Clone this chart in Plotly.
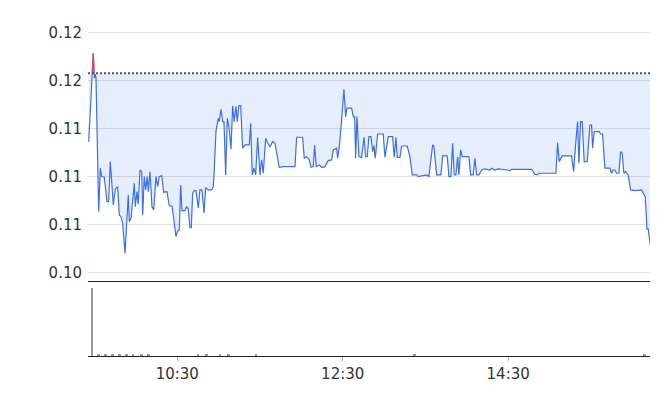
import datetime as dt
import plotly.graph_objects as go

BASE = dt.datetime(2024, 1, 2, 9, 30)

# ---- data (minutes after 09:30, price) ----
price_minutes = [
    -4.24, -1.85, -0.91, -0.18, 0.54, 1.05, 3.01, 4.17, 5.18, 7.07,
    9.03, 10.26, 11.42, 13.6, 15.05, 16.79, 17.95, 19.18, 20.41, 22.08,
    24.47, 25.2, 26.43, 28.82, 29.55, 30.78, 31.72, 32.96, 34.19, 34.91,
    36.07, 37.09, 38.25, 38.97, 40.21, 41.66, 42.89, 44.56, 45.79, 46.95,
    48.69, 50.14, 52.53, 54.2, 56.16, 57.39, 59.06, 60.29, 61.45, 62.47,
    63.41, 65.59, 66.82, 67.98, 69.21, 70.15, 71.17, 72.33, 73.56, 75.23,
    76.46, 77.91, 79.36, 80.6, 82.48, 84.95, 86.1, 86.61, 88.06, 89.73,
    90.46, 91.69, 92.92, 93.87, 95.1, 96.26, 97.49, 98.94, 100.17, 101.33,
    102.57, 103.51, 104.74, 105.97, 107.42, 109.09, 112.21, 113.22, 114.38, 115.62,
    116.85, 118.3, 119.24, 119.97, 121.2, 122.36, 124.1, 125.55, 127.22, 129.18,
    130.85, 132.8, 133.96, 136.43, 145.35, 146.58, 150.93, 152.09, 153.83, 155.72,
    156.95, 158.62, 159.63, 160.79, 162.97, 164.71, 167.1, 169.49, 171.96, 173.12,
    175.58, 176.31, 177.47, 179.21, 180.88, 182.11, 183.05, 186.46, 187.62, 188.64,
    189.36, 190.3, 191.75, 193.71, 195.38, 196.61, 197.77, 199.01, 200.46, 201.69,
    202.63, 203.57, 205.31, 209.37, 210.6, 213.0, 216.19, 217.35, 218.58, 219.52,
    221.48, 222.71, 226.77, 228.73, 230.4, 233.59, 234.75, 240.84, 242.51, 245.19,
    246.14, 248.1, 251.21, 252.45, 255.78, 257.01, 258.46, 259.7, 260.86, 262.09,
    263.32, 264.27, 265.5, 266.66, 271.52, 272.75, 274.64, 275.87, 277.1, 278.77,
    280.73, 283.12, 286.74, 287.98, 290.37, 292.76, 296.39, 299.29, 301.25, 302.48,
    316.98, 319.37, 321.04, 322.49, 334.6, 335.83, 336.99, 339.17, 345.98, 347.43,
    348.88, 350.33, 351.28, 352.51, 353.67, 355.12, 357.29, 359.25, 360.48, 361.21,
    362.37, 366.0, 367.01, 368.46, 370.13, 373.76, 374.99, 376.15, 377.38, 378.62,
    380.28, 381.52, 382.67, 383.91, 385.14, 387.03, 388.77, 391.89, 396.74, 399.41,
    400.65, 401.59, 403.04, 405.0, 406.67,
]
price_values = [
    0.11294, 0.11850, 0.12031, 0.11822, 0.11856, 0.11825, 0.10711, 0.11073, 0.11003, 0.10998,
    0.10794, 0.10794, 0.11128, 0.10767, 0.10900, 0.10919, 0.10684, 0.10669, 0.10614, 0.10365,
    0.10850, 0.10628, 0.10656, 0.10948, 0.10753, 0.10878, 0.10773, 0.11058, 0.11044, 0.10683,
    0.11003, 0.10892, 0.11003, 0.10878, 0.11044, 0.10753, 0.10725, 0.11003, 0.10919, 0.11003,
    0.11011, 0.10873, 0.10878, 0.10758, 0.10758, 0.10656, 0.10503, 0.10553, 0.10558, 0.10933,
    0.10719, 0.10719, 0.10753, 0.10733, 0.10578, 0.10578, 0.10864, 0.10886, 0.10886, 0.10742,
    0.10892, 0.10892, 0.10700, 0.10911, 0.10892, 0.10892, 0.10919, 0.11017, 0.11378, 0.11489,
    0.11461, 0.11564, 0.11461, 0.11461, 0.11017, 0.11489, 0.11419, 0.11231, 0.11592, 0.11461,
    0.11586, 0.11461, 0.11594, 0.11594, 0.11239, 0.11267, 0.11267, 0.11448, 0.11017, 0.11073,
    0.11017, 0.11328, 0.11142, 0.11017, 0.11142, 0.11031, 0.11323, 0.11281, 0.11253, 0.11294,
    0.11281, 0.11169, 0.11081, 0.11086, 0.11086, 0.11331, 0.11331, 0.11156, 0.11169, 0.11142,
    0.11081, 0.11086, 0.11267, 0.11086, 0.11100, 0.11081, 0.11086, 0.11136, 0.11142, 0.11225,
    0.11239, 0.11156, 0.11248, 0.11475, 0.11731, 0.11503, 0.11573, 0.11573, 0.11503, 0.11503,
    0.11156, 0.11503, 0.11169, 0.11161, 0.11331, 0.11169, 0.11169, 0.11336, 0.11336, 0.11211,
    0.11261, 0.11156, 0.11358, 0.11358, 0.11164, 0.11336, 0.11336, 0.11164, 0.11331, 0.11164,
    0.11164, 0.11258, 0.11258, 0.11169, 0.11017, 0.11017, 0.11003, 0.11017, 0.11003, 0.11267,
    0.11253, 0.11017, 0.11017, 0.11175, 0.11175, 0.11003, 0.11003, 0.11281, 0.11017, 0.11017,
    0.11169, 0.11017, 0.11225, 0.11169, 0.11169, 0.11017, 0.11017, 0.11156, 0.11017, 0.11017,
    0.11058, 0.11067, 0.11058, 0.11073, 0.11058, 0.11067, 0.11064, 0.11058, 0.11053, 0.11064,
    0.11064, 0.11022, 0.11017, 0.11031, 0.11031, 0.11286, 0.11128, 0.11175, 0.11175, 0.11044,
    0.11267, 0.11461, 0.11114, 0.11461, 0.11461, 0.11128, 0.11128, 0.11433, 0.11433, 0.11239,
    0.11378, 0.11378, 0.11358, 0.11358, 0.11073, 0.11073, 0.11031, 0.11058, 0.11058, 0.11031,
    0.11031, 0.11211, 0.11198, 0.11031, 0.11044, 0.11017, 0.10892, 0.10886, 0.10892, 0.10836,
    0.10565, 0.10565, 0.10434, 0.10453, 0.10490,
]
prev_close = 0.11864

volume_minutes = [-2, 3, 8, 13, 18, 23, 28, 34, 39, 75, 81, 91, 97, 117, 232, 399, 404]
volume_values = [1200000, 28000, 40000, 22000, 22000, 22000, 22000, 22000, 22000,
                 22000, 22000, 40000, 25000, 40000, 22000, 22000, 22000]

y_tick_values = [0.102, 0.106, 0.110, 0.114, 0.118, 0.122]
y_tick_labels = ["0.10", "0.11", "0.11", "0.11", "0.12", "0.12"]
x_tick_labels = ["10:30", "12:30", "14:30"]


def to_time(m):
    return BASE + dt.timedelta(minutes=m)


# insert crossing points with the previous-close level so colours/fill split cleanly
pts = []
for i, (m, p) in enumerate(zip(price_minutes, price_values)):
    pts.append((m, p))
    if i < len(price_values) - 1:
        m2, p2 = price_minutes[i + 1], price_values[i + 1]
        if (p - prev_close) * (p2 - prev_close) < 0:
            t = (prev_close - p) / (p2 - p)
            pts.append((m + t * (m2 - m), prev_close))

pts_x = [to_time(m) for m, _ in pts]
below_y = [min(p, prev_close) for _, p in pts]
above_y = [p if p >= prev_close else None for _, p in pts]

FONT = "DejaVu Sans"
BLUE = "#3a6fe6"
RED = "#e0474c"

fig = go.Figure()

# fill between previous close and price
fig.add_trace(go.Scatter(x=pts_x, y=[prev_close] * len(pts_x), mode="lines",
                         line=dict(width=0, color="rgba(0,0,0,0)"), hoverinfo="skip",
                         showlegend=False, xaxis="x", yaxis="y"))
fig.add_trace(go.Scatter(x=pts_x, y=below_y, mode="lines", fill="tonexty",
                         fillcolor="rgba(20,90,220,0.1)",
                         line=dict(width=0, color="rgba(0,0,0,0)"), hoverinfo="skip",
                         showlegend=False, xaxis="x", yaxis="y"))
# price line
fig.add_trace(go.Scatter(x=[to_time(m) for m in price_minutes], y=price_values, mode="lines",
                         line=dict(width=1.2, color=BLUE), showlegend=False,
                         xaxis="x", yaxis="y"))
fig.add_trace(go.Scatter(x=pts_x, y=above_y, mode="lines", connectgaps=False,
                         line=dict(width=1.2, color=RED), showlegend=False,
                         xaxis="x", yaxis="y"))

# volume
fig.add_trace(go.Bar(x=[to_time(m) for m in volume_minutes], y=volume_values,
                     marker=dict(color="#999999", line=dict(width=0)),
                     width=110000, showlegend=False, xaxis="x2", yaxis="y2"))

x_range = [to_time(-4.75), to_time(407.2)]
x_tickvals = [dt.datetime.combine(BASE.date(), dt.datetime.strptime(s, "%H:%M").time())
              for s in x_tick_labels]

# page body has an 8px default margin, so the figure is 650x400 inside the 658x408 window
fig.update_layout(
    width=650, height=400,
    margin=dict(l=80, r=2, t=6, b=52, autoexpand=False),
    paper_bgcolor="white", plot_bgcolor="white",
    font=dict(family=FONT, size=15, color="#333333"),
    xaxis=dict(domain=[0, 1], anchor="y", range=x_range, type="date",
               showticklabels=False, showgrid=False, zeroline=False, automargin=False,
               showline=True, linecolor="#222222", linewidth=1, ticks=""),
    yaxis=dict(domain=[0.2193, 1], anchor="x", range=[0.10133, 0.12358],
               tickvals=y_tick_values, ticktext=y_tick_labels, automargin=False,
               showgrid=True, gridcolor="#e2e2e2", gridwidth=1, zeroline=False,
               showline=False, ticks="", ticklabelstandoff=5,
               tickfont=dict(family=FONT, size=15, color="#333333")),
    xaxis2=dict(domain=[0, 1], anchor="y2", range=x_range, type="date",
                tickvals=x_tickvals, ticktext=x_tick_labels, automargin=False,
                showgrid=False, zeroline=False,
                showline=True, linecolor="#222222", linewidth=1,
                ticks="outside", ticklen=4, tickcolor="#aaaaaa", tickwidth=1,
                tickfont=dict(family=FONT, size=15, color="#333333")),
    yaxis2=dict(domain=[0, 0.1988], anchor="x2", range=[0, 1200000], automargin=False,
                showticklabels=False, showgrid=False, zeroline=False,
                showline=False, ticks=""),
    shapes=[dict(type="line", xref="paper", yref="y", x0=0, x1=1,
                 y0=prev_close, y1=prev_close,
                 line=dict(color="#555555", width=2, dash="2px,2px"))],
    bargap=0,
)

fig.write_html("out.html")
